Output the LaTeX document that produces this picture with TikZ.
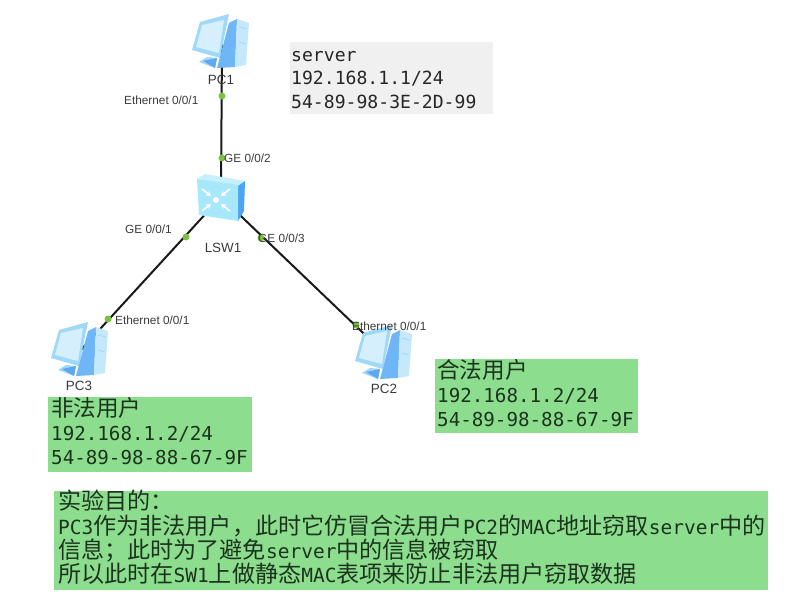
\documentclass[tikz,border=0pt]{standalone}
\usepackage{fontspec}
\setmainfont{Liberation Sans}
\setmonofont{DejaVu Sans Mono}
\newfontfamily\cjk{Noto Sans CJK SC}
\newcommand{\zhsize}{22.6}
\newcommand{\zh}[1]{{\cjk\fontsize{\zhsize}{24}\selectfont #1}}
\usetikzlibrary{arrows.meta}
\definecolor{boxgreen}{HTML}{8CDE8E}
\definecolor{boxgray}{HTML}{F0F0F0}
\definecolor{portgreen}{HTML}{7CC242}
\definecolor{labelgray}{HTML}{3A3A3A}
\definecolor{boxtext}{HTML}{1C331E}
\definecolor{pcframe}{HTML}{9FD8F8}
\definecolor{pcscreen}{HTML}{D5F0FC}
\definecolor{pctower}{HTML}{6FB6F7}
\definecolor{pcside}{HTML}{C5E9FB}
\definecolor{pcstand}{HTML}{5DA8F0}
\definecolor{swface}{HTML}{A8E8FB}
\definecolor{swtop}{HTML}{C5F0FC}
\definecolor{swside}{HTML}{4BA5F5}
\tikzset{
  link/.style={line width=2pt,black!90},
  port/.style={circle,fill=portgreen,inner sep=0pt,minimum size=7pt},
  iflabel/.style={font=\fontsize{11.8}{13}\selectfont,text=labelgray,inner sep=0pt},
  devname/.style={font=\fontsize{13.4}{15}\selectfont,text=labelgray,inner sep=0pt},
  devspot/.style={inner sep=0pt,minimum size=1pt},
  infobox/.style={anchor=north west,inner sep=0pt,align=left,text=boxtext,
    font=\ttfamily\fontsize{19.2}{24}\selectfont},
  pcicon/.pic={
    \fill[pcframe] (7,48) -- (15,43) -- (25,44) -- (23,54) -- cycle;
    \fill[pcstand] (11,47) -- (25,44) -- (23,54) -- cycle;
    \fill[pcframe] (0,36) -- (8,8) -- (37,0) -- (28,44) -- cycle;
    \fill[pcscreen] (4,33) -- (10,11) -- (32,6) -- (27,39) -- cycle;
    \fill[pctower] (37,9) -- (45,5) -- (43,53) -- (25,54) -- cycle;
    \fill[pcside] (45,5) -- (57,9) -- (54,51) -- (43,53) -- cycle;
    \draw[pcframe,line width=0.8pt] (47,13) -- (55,15) (47,28) -- (54,30);
  },
  switchicon/.pic={
    \fill[swtop] (0,5) -- (8,0) -- (48,7) -- (41,12) -- cycle;
    \fill[swside] (41,12) -- (48,7) -- (47,37) -- (41,47) -- cycle;
    \fill[swface] (0,5) -- (41,11) -- (41,47) -- (2,41) -- cycle;
    \foreach \dx/\dy in {-1/-1,1/-1,-1/1,1/1}
      \draw[white,line width=1.6pt,-{Stealth[length=5pt,width=6pt]}]
        ({19+14*\dx},{26+11*\dy}) -- ({19+5*\dx},{26+4*\dy});
    \fill[white] (19,26) circle (3.2pt);
  },
}
\begin{document}
\begin{tikzpicture}[x=1pt,y=-1pt]
\useasboundingbox (0,0) rectangle (796,599);
% Text boxes
\fill[boxgray] (290,42) rectangle (493,114);
\fill[boxgreen] (48,397) rectangle (252,472);
\fill[boxgreen] (435,359) rectangle (638,433);
\fill[boxgreen] (54,491) rectangle (768,590);
\node[infobox,text=black!85,font=\ttfamily\fontsize{18.1}{23.6}\selectfont] (servertext) at (291,51) {server\\192.168.1.1/24\\54-89-98-3E-2D-99};
\node[infobox] (badtext) at (51,397) {\zh{非法用户}\\192.168.1.2/24\\54-89-98-88-67-9F};
\node[infobox] (goodtext) at (437,359) {\zh{合法用户}\\192.168.1.2/24\\54-89-98-88-67-9F};
\renewcommand{\zhsize}{23.1}
\node[infobox,font=\ttfamily\fontsize{19.5}{24.3}\selectfont] (goaltext) at (58,490) {\zh{实验目的：}\\PC3\zh{作为非法用户，此时它仿冒合法用户}PC2\zh{的}MAC\zh{地址窃取}server\zh{中的}\\\zh{信息；此时为了避免}server\zh{中的信息被窃取}\\\zh{所以此时在}SW1\zh{上做静态}MAC\zh{表项来防止非法用户窃取数据}};
% Devices
\node[devspot] (pca) at (222,41) {};
\node[devspot] (pcb) at (383,352) {};
\node[devspot] (pcc) at (79,352) {};
\node[devspot] (lsw) at (221,197) {};
% Links
\draw[link] (pca) -- (lsw);
\draw[link] (lsw) -- (pcb);
\draw[link] (lsw) -- (pcc);
\pic at (192,14) {pcicon};
\pic at (355,325) {pcicon};
\pic at (51,322) {pcicon};
\pic at (197,174) {switchicon};
% Ports
\node[port] (porta) at (222,96) {};
\node[port] (portb) at (222,158) {};
\node[port] (portc) at (186,237) {};
\node[port] (portd) at (108,319) {};
\node[port] (porte) at (261,238) {};
\node[port] (portf) at (356,325) {};
% Labels
\node[devname] (pcaname) at (221,80) {PC1};
\node[devname] (pcbname) at (384,389) {PC2};
\node[devname] (pccname) at (79,386) {PC3};
\node[devname] (lswname) at (223,248) {LSW1};
\node[iflabel,anchor=west] (ifa) at (124,100) {Ethernet 0/0/1};
\node[iflabel,anchor=west] (ifb) at (224,158) {GE 0/0/2};
\node[iflabel,anchor=west] (ifc) at (125,229) {GE 0/0/1};
\node[iflabel,anchor=west] (ifd) at (258,238) {GE 0/0/3};
\node[iflabel,anchor=west] (ife) at (115,320) {Ethernet 0/0/1};
\node[iflabel,anchor=west] (iff) at (352,326) {Ethernet 0/0/1};
\end{tikzpicture}
\end{document}
